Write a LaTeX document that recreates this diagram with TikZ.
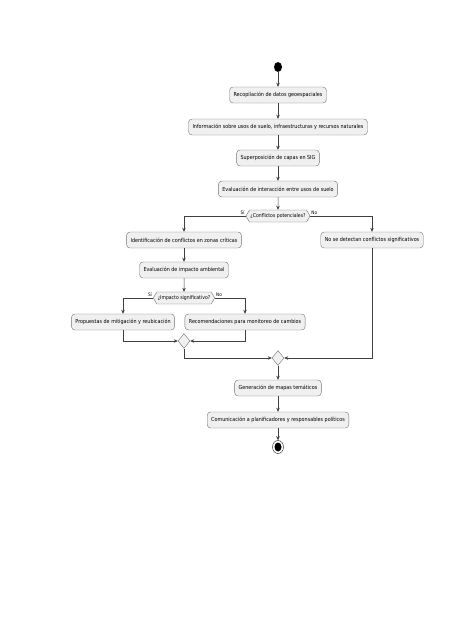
\documentclass[tikz,border=0pt]{standalone}
\usepackage{fontspec}
\setmainfont{DejaVu Sans}[FakeStretch=0.88]
\usetikzlibrary{arrows.meta, positioning, shapes.geometric, shapes.symbols}

\begin{document}
\begin{tikzpicture}[
    x=1pt, y=-1pt,
    act/.style={draw=black!55, line width=0.4pt, rounded corners=3.5pt, fill=black!6, font=\fontsize{5.5}{6.5}\selectfont, minimum height=16pt, inner xsep=4pt, inner ysep=0pt},
    dec/.style={draw=black!55, line width=0.4pt, fill=black!6, shape=signal, signal to=west and east, signal pointer angle=120, font=\fontsize{5.2}{6}\selectfont, minimum height=12pt, inner xsep=1pt, inner ysep=0pt},
    merge/.style={draw=black!55, line width=0.4pt, fill=black!6, shape=diamond, minimum width=12pt, minimum height=15pt, inner sep=0pt},
    lbl/.style={font=\fontsize{4.8}{5.5}\selectfont, inner sep=1pt},
    arrow/.style={-{Stealth[length=4pt, width=3.5pt]}, line width=0.5pt, draw=black!75},
]
\useasboundingbox (0,0) rectangle (474,632);

% Start
\node[ellipse, fill=black, minimum width=8pt, minimum height=10pt, inner sep=0pt] (start) at (278, 67) {};

% Main column
\node[act] (datos) at (278, 95) {Recopilación de datos geoespaciales};
\node[act] (info) at (278, 127) {Información sobre usos de suelo, infraestructuras y recursos naturales};
\node[act] (sig) at (278, 158) {Superposición de capas en SIG};
\node[act] (interac) at (278, 189) {Evaluación de interacción entre usos de suelo};
\node[dec] (conf) at (278, 216) {¿Conflictos potenciales?};

% Branches
\node[act] (ident) at (184, 240) {Identificación de conflictos en zonas críticas};
\node[act] (nosig) at (372, 240) {No se detectan conflictos significativos};
\node[act] (impacto) at (184, 270) {Evaluación de impacto ambiental};
\node[dec] (imp) at (184, 298) {¿Impacto significativo?};
\node[act] (prop) at (123, 322) {Propuestas de mitigación y reubicación};
\node[act] (recom) at (245, 322) {Recomendaciones para monitoreo de cambios};

% Merges
\node[merge] (m1) at (184, 341) {};
\node[merge] (m2) at (278, 358) {};

% Tail
\node[act] (mapas) at (278, 388) {Generación de mapas temáticos};
\node[act] (comun) at (278, 420) {Comunicación a planificadores y responsables políticos};
\node[ellipse, draw=black!75, line width=0.5pt, minimum width=11pt, minimum height=13pt, inner sep=0pt] (stop) at (278, 447) {};
\node[ellipse, fill=black, minimum width=7pt, minimum height=9pt, inner sep=0pt] (stopin) at (278, 447) {};

% Flow
\draw[arrow] (start) -- (datos);
\draw[arrow] (datos) -- (info);
\draw[arrow] (info) -- (sig);
\draw[arrow] (sig) -- (interac);
\draw[arrow] (interac) -- (conf);

\draw[arrow] (conf.west) -| (ident.north);
\draw[arrow] (conf.east) -| (nosig.north);
\node[lbl, anchor=south east] (si1) at (conf.west) {Sí};
\node[lbl, anchor=south west] (no1) at (conf.east) {No};

\draw[arrow] (ident) -- (impacto);
\draw[arrow] (impacto) -- (imp);
\draw[arrow] (imp.west) -| (prop.north);
\draw[arrow] (imp.east) -| (recom.north);
\node[lbl, anchor=south east] (si2) at (imp.west) {Sí};
\node[lbl, anchor=south west] (no2) at (imp.east) {No};

\draw[arrow] (prop.south) |- (m1.west);
\draw[arrow] (recom.south) |- (m1.east);
\draw[arrow] (m1.south) |- (m2.west);
\draw[arrow] (nosig.south) |- (m2.east);

\draw[arrow] (m2) -- (mapas);
\draw[arrow] (mapas) -- (comun);
\draw[arrow] (comun) -- (stop);

\end{tikzpicture}
\end{document}
